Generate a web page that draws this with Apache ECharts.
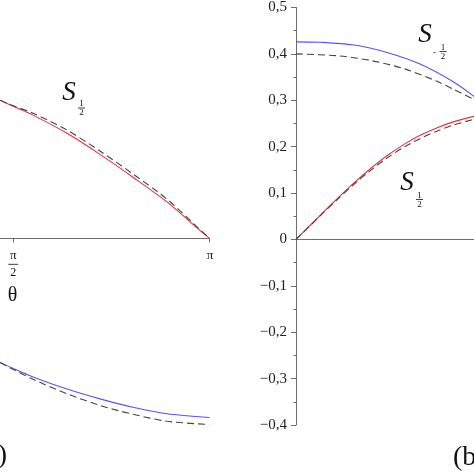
<!DOCTYPE html>
<html><head><meta charset="utf-8">
<script src="https://cdn.jsdelivr.net/npm/echarts@6/dist/echarts.min.js"></script>
<style>html,body{margin:0;padding:0;background:#fff}#c{width:474px;height:474px}</style>
</head><body><div id="c"></div><script>
// Panel (a) — only the right part is visible
const thetaA      = [1.465, 1.571, 1.729, 2.001, 2.265, 2.529, 2.801, 3.065, 3.1416];
const redA        = [0.296, 0.283, 0.264, 0.225, 0.180, 0.131, 0.078, 0.017, 0];
const dashUpA     = [0.296, 0.284, 0.268, 0.232, 0.187, 0.138, 0.084, 0.019, 0];
const thetaA2     = [1.465, 1.571, 1.729, 2.001, 2.265, 2.529, 2.801, 3.1416];
const blueA       = [-0.266, -0.279, -0.297, -0.323, -0.344, -0.362, -0.376, -0.384];
const dashLowA    = [-0.266, -0.281, -0.302, -0.333, -0.358, -0.377, -0.392, -0.399];
// Panel (b) — only the left part is visible
const thetaB1     = [0, 0.193, 0.465, 0.730, 0.995, 1.268, 1.44];
const blueB       = [0.426, 0.425, 0.419, 0.403, 0.378, 0.339, 0.306];
const thetaB2     = [0, 0.329, 0.594, 0.867, 1.131, 1.268, 1.44];
const dashUpB     = [0.400, 0.396, 0.386, 0.368, 0.341, 0.323, 0.300];
const thetaB3     = [0, 0.198, 0.331, 0.465, 0.599, 0.733, 0.867, 1.000, 1.134, 1.268, 1.44];
const redB        = [0, 0.053, 0.088, 0.122, 0.153, 0.181, 0.205, 0.225, 0.241, 0.254, 0.266];
const dashLowB    = [0, 0.052, 0.086, 0.119, 0.149, 0.176, 0.199, 0.218, 0.234, 0.247, 0.260];
const xTicksA     = [Math.PI / 2, Math.PI];
const yTickLabels = ['−0,4','−0,3','−0,2','−0,1','0','0,1','0,2','0,3','0,4','0,5'];
// visible θ window of each (cropped) panel
const xMinA = 1.4647, xMaxA = Math.PI;
const xMinB = 0, xMaxB = 1.4283;

const pair = (xs, ys) => xs.map((x, i) => [x, ys[i]]);
const SERIF = '"Liberation Serif","DejaVu Serif",serif';
const RED = '#e2333c', BLUE = '#5656ea', DASH = '#444';
const axisCol = '#6e6e6e';

function line(name, xi, data, color, dashed) {
  return { name, type: 'line', xAxisIndex: xi, yAxisIndex: xi, data, showSymbol: false, smooth: 0.3, clip: true,
    lineStyle: { color, width: 1.1, type: dashed ? [7, 4] : 'solid' }, z: dashed ? 3 : 2 };
}
const T = (text, x, y, font, align) => ({ type: 'text', style: { text, x, y, font, fill: '#111', textAlign: align || 'center', textVerticalAlign: 'middle' } });
const L = (x1, x2, y) => ({ type: 'line', shape: { x1, y1: y, x2, y2: y }, style: { stroke: '#111', lineWidth: 0.8 } });

const chart = echarts.init(document.getElementById('c'), null, { renderer: 'canvas' });
chart.setOption({
  animation: false,
  grid: [
    { left: 0, top: 5, width: 209.5, height: 420 },
    { left: 296, top: 5, right: 0, height: 420 }
  ],
  xAxis: [
    { gridIndex: 0, type: 'value', min: xMinA, max: xMaxA,
      axisLine: { onZero: true, lineStyle: { color: axisCol, width: 1 } },
      axisTick: { show: true, length: 4, customValues: xTicksA, lineStyle: { color: axisCol } },
      splitLine: { show: false }, axisLabel: { show: false } },
    { gridIndex: 1, type: 'value', min: xMinB, max: xMaxB,
      axisLine: { onZero: true, lineStyle: { color: axisCol, width: 1 } },
      axisTick: { show: false }, axisLabel: { show: false }, splitLine: { show: false } }
  ],
  yAxis: [
    { gridIndex: 0, type: 'value', min: -0.4, max: 0.5, interval: 0.1, show: true,
      axisLine: { show: false }, axisTick: { show: false }, axisLabel: { show: false }, splitLine: { show: false } },
    { gridIndex: 1, type: 'value', min: -0.4, max: 0.5, interval: 0.1,
      axisLine: { show: true, lineStyle: { color: axisCol, width: 1 } },
      axisTick: { show: true, length: 5, lineStyle: { color: axisCol } },
      minorTick: { show: true, splitNumber: 2, length: 2.5, lineStyle: { color: axisCol } },
      splitLine: { show: false },
      axisLabel: { margin: 9, color: '#222', fontSize: 15, fontFamily: SERIF,
        formatter: v => yTickLabels[Math.round((v + 0.4) * 10)] } }
  ],
  series: [
    line('S½ (a)', 0, pair(thetaA, redA), RED, false),
    line('S½ approx (a)', 0, pair(thetaA, dashUpA), DASH, true),
    line('S−½ (a)', 0, pair(thetaA2, blueA), BLUE, false),
    line('S−½ approx (a)', 0, pair(thetaA2, dashLowA), DASH, true),
    line('S−½ (b)', 1, pair(thetaB1, blueB), BLUE, false),
    line('S−½ approx (b)', 1, pair(thetaB2, dashUpB), DASH, true),
    line('S½ (b)', 1, pair(thetaB3, redB), RED, false),
    line('S½ approx (b)', 1, pair(thetaB3, dashLowB), DASH, true)
  ]
});

// θ tick labels of panel (a), placed at the axis ticks through the axis scale
const pHalf = chart.convertToPixel({ xAxisIndex: 0, yAxisIndex: 0 }, [xTicksA[0], 0]);
const pPi   = chart.convertToPixel({ xAxisIndex: 0, yAxisIndex: 0 }, [xTicksA[1], 0]);
chart.setOption({
  graphic: [
    T('π', pHalf[0], pHalf[1] + 17, '13px ' + SERIF), L(pHalf[0] - 5, pHalf[0] + 5, pHalf[1] + 26), T('2', pHalf[0], pHalf[1] + 35, '12px ' + SERIF),
    T('π', pPi[0] + 0.5, pPi[1] + 17, '13px ' + SERIF),
    // panel (a) labels
    T('S', 69, 93, 'italic 27px ' + SERIF),
    T('1', 81.5, 104, '9px ' + SERIF), L(78, 85, 108), T('2', 81.5, 113, '9px ' + SERIF),
    T('θ', 12.5, 296, '20px ' + SERIF),
    T('(a)', 7, 456, '28px ' + SERIF, 'right'),
    // panel (b) labels
    T('S', 425, 35, 'italic 27px ' + SERIF),
    T('-', 434.5, 52.5, '9px ' + SERIF),
    T('1', 443, 47.5, '9px ' + SERIF), L(439.5, 446.5, 51.5), T('2', 443, 56.5, '9px ' + SERIF),
    T('S', 407, 183, 'italic 27px ' + SERIF),
    T('1', 419.5, 195.5, '9px ' + SERIF), L(416, 423, 199.5), T('2', 419.5, 204.5, '9px ' + SERIF),
    T('(b)', 453, 458, '28px ' + SERIF, 'left')
  ]
});
</script></body></html>
